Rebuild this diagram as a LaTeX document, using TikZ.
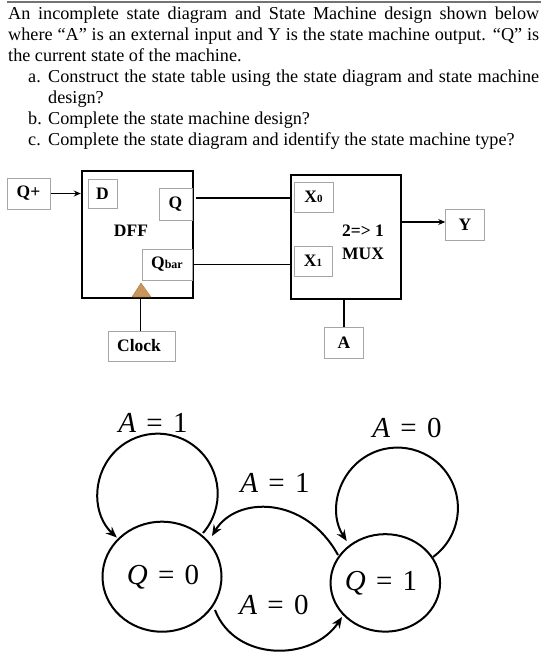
\documentclass[tikz,border=0pt]{standalone}
\usepackage{fontspec}
\setmainfont{Liberation Serif}
\usetikzlibrary{arrows.meta}
\tikzset{
  line/.style={font=\fontsize{18.2}{21}\selectfont,anchor=base west,inner sep=0pt},
  lbl/.style={draw=black!35,line width=1pt,fill=white,font=\fontsize{17.5}{20}\selectfont\bfseries,inner sep=0pt,minimum width=#1,align=center},
  block/.style={draw=black,line width=2.4pt,inner sep=0pt},
  wire/.style={draw=black,line width=1.8pt},
  awire/.style={wire,-{Stealth[length=7pt,width=6pt]}},
  stateline/.style={draw=black,line width=2pt},
  astate/.style={stateline,-{Stealth[length=11pt,width=9pt]}},
  statenode/.style={draw=black,line width=2pt,ellipse,inner sep=0pt},
  mathlbl/.style={inner sep=0pt,font=\fontsize{29}{32}\selectfont},
  freetext/.style={inner sep=0pt,font=\fontsize{17.5}{20}\selectfont\bfseries,align=center}
}
\usetikzlibrary{shapes.geometric}
\newcommand{\boxat}[6]{\node[lbl=#4pt,minimum height=#5pt] (#1) at (#2pt,-#3pt) {#6};}
\newcommand{\eqn}[2]{\textit{#1}\hspace{3pt} = \hspace{3pt}#2}
\begin{document}
\begin{tikzpicture}[x=1pt,y=1pt]
\useasboundingbox (0,-656) rectangle (545,0);
\fill[white] (0,-656) rectangle (545,0);
\coordinate (ruleL) at (7,-2);
\coordinate (ruleR) at (541,-2);
\draw[black!55,line width=1.5pt] (ruleL) -- (ruleR);
% text
\node[line] (t1) at (8,-19) {\makebox[531pt][s]{An incomplete state diagram and State Machine design shown below}};
\node[line] (t2) at (8,-40) {\makebox[531pt][s]{where “A” is an external input and Y is the state machine output. “Q” is}};
\node[line] (t3) at (8,-61) {the current state of the machine.};
\node[line] (t4a) at (28,-82) {a.};
\node[line] (t4) at (48,-82) {\makebox[491pt][s]{Construct the state table using the state diagram and state machine}};
\node[line] (t5) at (48,-103) {design?};
\node[line] (t6a) at (28,-124) {b.};
\node[line] (t6) at (48,-124) {Complete the state machine design?};
\node[line] (t7a) at (28,-145) {c.};
\node[line] (t7) at (48,-145) {Complete the state diagram and identify the state machine type?};
% blocks
\node[block,minimum width=111pt,minimum height=127pt] (dff) at (137.5,-234.5) {};
\node[block,minimum width=110pt,minimum height=124pt] (mux) at (346,-237) {};
\node[freetext] (dfft) at (131,-231) {DFF};
\node[freetext] (muxt) at (363,-242) {2=> 1\\[3pt]MUX};
\boxat{qp}{28.5}{193.5}{43}{31}{Q+}
\boxat{d}{102.5}{194}{29}{29}{D}
\boxat{q}{175.5}{204}{33}{32}{Q}
\boxat{qb}{167}{264.5}{50}{31}{Q{\fontsize{12}{13}\selectfont bar}}
\boxat{x0}{313.5}{197}{39}{30}{X{\fontsize{11}{12}\selectfont 0}}
\boxat{x1}{313}{261}{38}{30}{X{\fontsize{11}{12}\selectfont 1}}
\boxat{y}{465}{224.5}{38.5}{31}{Y}
\boxat{a}{344}{342.5}{38.5}{31}{A}
\boxat{clk}{141.5}{346}{67}{30}{\hspace{-5pt}Clock}
\coordinate (tipB) at (140.5,-297.5);
\path[fill={rgb,255:red,200;green,150;blue,90},draw={rgb,255:red,170;green,125;blue,70},line width=0.4pt] (132,-297) -- (141,-283) -- (151,-297) -- cycle;
% wires
\draw[awire] (qp.east) -- (qp.east -| dff.west);
\draw[wire] (196,-198) coordinate (qo) -- (qo -| mux.west);
\draw[wire] (qb.east) -- (qb.east -| mux.west);
\draw[awire] (mux.east |- y.west) ++(0,2.5) coordinate (yo) -- (yo -| y.west);
\draw[wire] (clk.north -| tipB) -- (tipB);
\draw[wire] (a.north) -- (a.north |- mux.south);
% state diagram
\node[statenode,minimum width=119pt,minimum height=110pt] (s0) at (162,-576.7) {};
\node[statenode,minimum width=109.5pt,minimum height=97.5pt] (s1) at (385.3,-582.9) {};
\node[mathlbl] (q0) at (163,-577) {\eqn{Q}{0}};
\node[mathlbl] (q1) at (381,-583) {\eqn{Q}{1}};
\node[mathlbl] (l1) at (153,-423) {\eqn{A}{1}};
\node[mathlbl] (l2) at (407,-428) {\eqn{A}{0}};
\node[mathlbl] (l3) at (275,-483) {\eqn{A}{1}};
\node[mathlbl] (l4) at (274,-605) {\eqn{A}{0}};
\coordinate (la) at (203,-533);
\coordinate (lb) at (433,-557);
\coordinate (ca) at (338,-555);
\coordinate (cb) at (212,-536);
\coordinate (da) at (215,-610);
\coordinate (db) at (342,-617);
\draw[astate] (la) arc[start angle=-41,end angle=227,radius=60pt];
\draw[astate] (lb) arc[start angle=-54,end angle=213,radius=60.5pt];
\draw[astate] (ca) .. controls (305,-495) and (236,-496) .. (cb);
\draw[astate] (da) .. controls (235,-662) and (312,-662) .. (db);
\end{tikzpicture}
\end{document}
